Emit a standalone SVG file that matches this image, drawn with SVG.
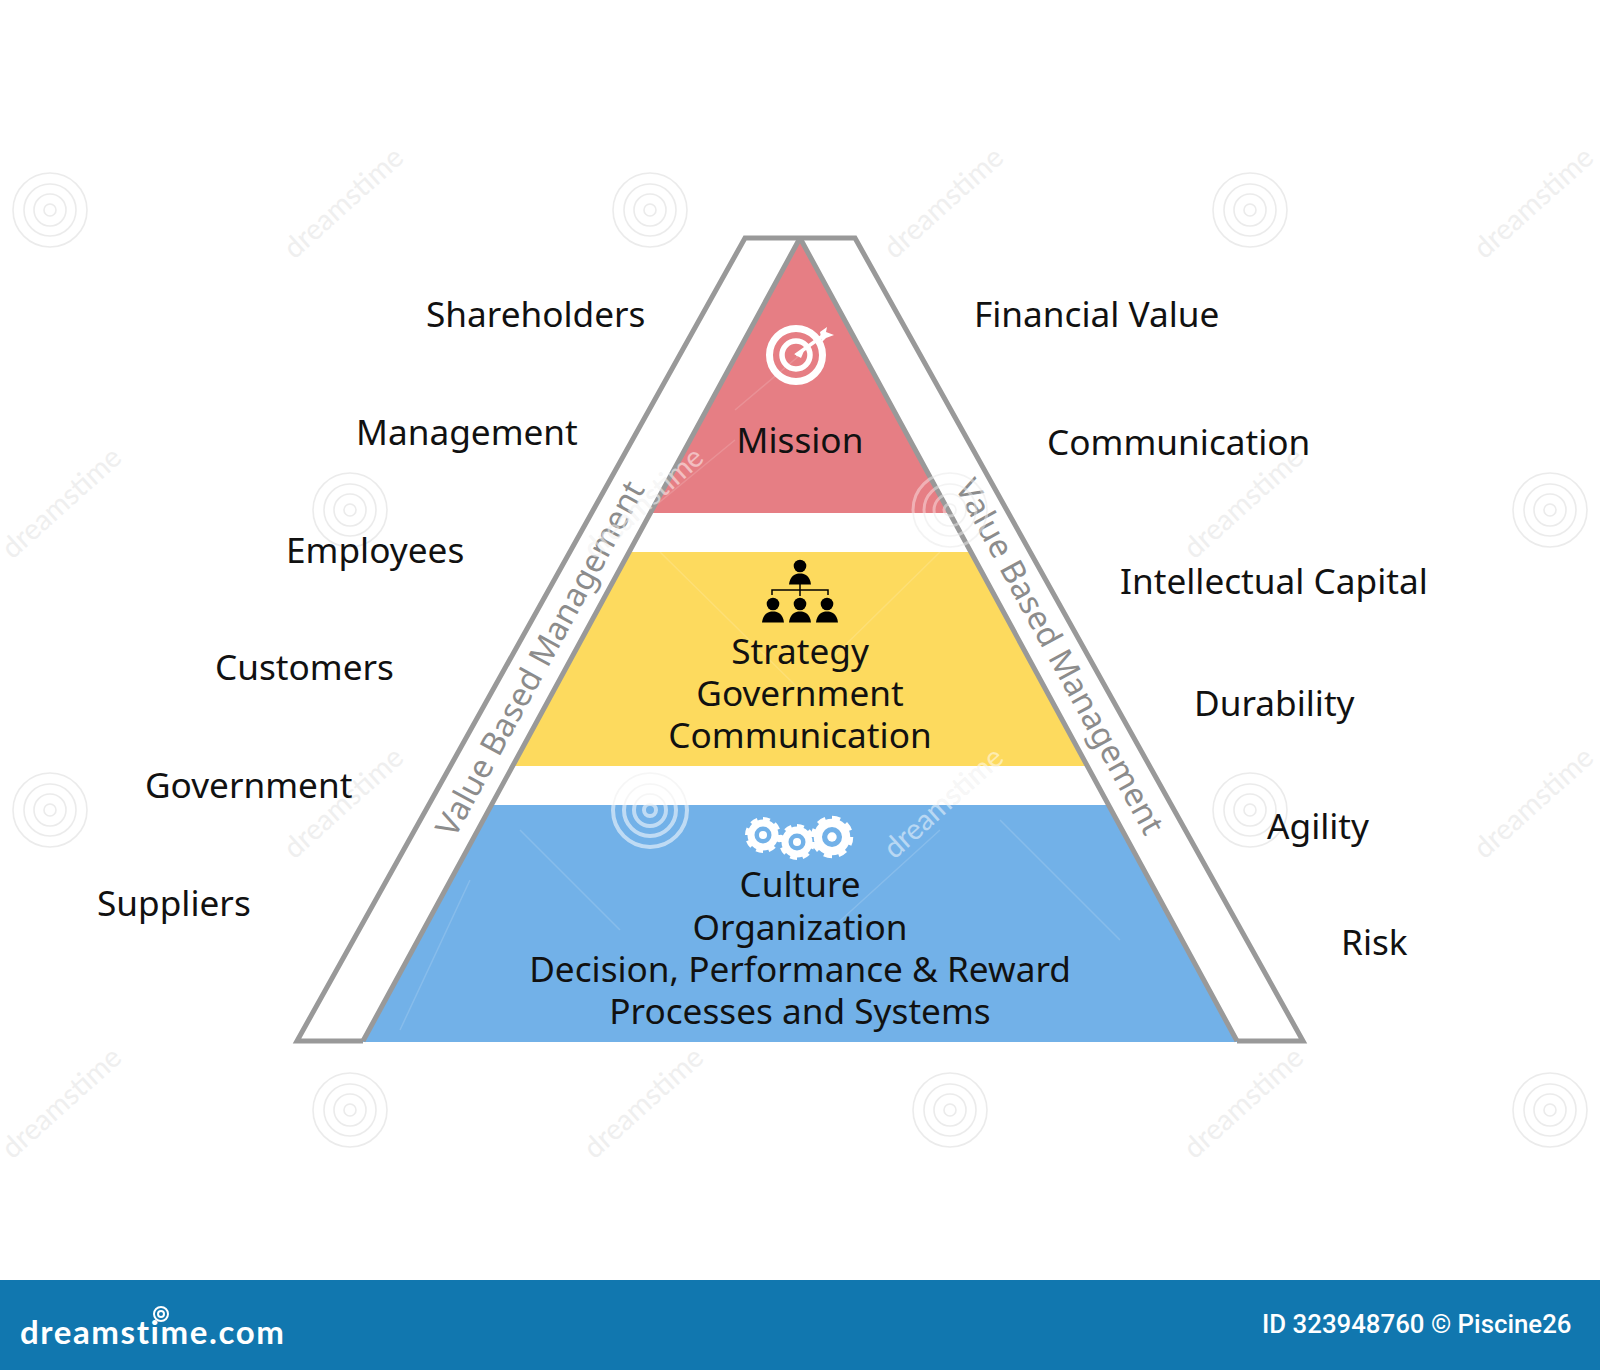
<svg xmlns="http://www.w3.org/2000/svg" width="1600" height="1370" viewBox="0 0 1600 1370">
<style>
text{font-family:"Noto Sans","Open Sans","DejaVu Sans",sans-serif}
.l{font-size:35.2px;fill:#111}
.c{font-size:35.2px;fill:#111;text-anchor:middle}
.v{font-size:32.5px;fill:#8c8c8c;text-anchor:middle}
.edge{fill:none;stroke:#999;stroke-width:5}
.w{fill:#fff}.k{fill:#000}
.wm{fill:none;stroke:#d4d4d4;stroke-width:1.6;opacity:.45}
.wt{font-size:29px;fill:#d8d8d8;opacity:.4;text-anchor:middle;font-family:"Lato",sans-serif}
.dl{stroke:#fff;stroke-width:1.5;opacity:.15;fill:none}
</style>
<defs>
<g id="spiral"><circle r="37"/><circle r="26"/><circle r="16"/><circle r="6"/></g>
<g id="person"><circle cx="0" cy="0" r="6.3"/><path d="M-11 18.5C-10 10-5 7.5 0 7.5S10 10 11 18.5Z"/></g>
<g id="gear"><circle r="15.5" class="w"/><circle r="15.5" fill="none" stroke="#fff" stroke-width="5" pathLength="80" stroke-dasharray="5.5 4.5"/><circle r="8.5" fill="#72b1e8"/><circle r="4" class="w"/></g>
</defs>
<rect width="1600" height="1370" fill="#fff"/>
<g id="watermark-back">
<use href="#spiral" class="wm" x="50" y="210"/><use href="#spiral" class="wm" x="650" y="210"/><use href="#spiral" class="wm" x="1250" y="210"/>
<use href="#spiral" class="wm" x="350" y="510"/><use href="#spiral" class="wm" x="950" y="510"/><use href="#spiral" class="wm" x="1550" y="510"/>
<use href="#spiral" class="wm" x="50" y="810"/><use href="#spiral" class="wm" x="650" y="810"/><use href="#spiral" class="wm" x="1250" y="810"/>
<use href="#spiral" class="wm" x="350" y="1110"/><use href="#spiral" class="wm" x="950" y="1110"/><use href="#spiral" class="wm" x="1550" y="1110"/>
<text class="wt" transform="translate(350 210) rotate(-42)">dreamstime</text>
<text class="wt" transform="translate(950 210) rotate(-42)">dreamstime</text>
<text class="wt" transform="translate(1540 210) rotate(-42)">dreamstime</text>
<text class="wt" transform="translate(68 510) rotate(-42)">dreamstime</text>
<text class="wt" transform="translate(650 510) rotate(-42)">dreamstime</text>
<text class="wt" transform="translate(1250 510) rotate(-42)">dreamstime</text>
<text class="wt" transform="translate(350 810) rotate(-42)">dreamstime</text>
<text class="wt" transform="translate(950 810) rotate(-42)">dreamstime</text>
<text class="wt" transform="translate(1540 810) rotate(-42)">dreamstime</text>
<text class="wt" transform="translate(68 1110) rotate(-42)">dreamstime</text>
<text class="wt" transform="translate(650 1110) rotate(-42)">dreamstime</text>
<text class="wt" transform="translate(1250 1110) rotate(-42)">dreamstime</text>
</g>
<g id="tier-mission"><polygon points="800,238 950,513 650,513" fill="#e67e84"/></g>
<g id="tier-strategy"><polygon points="629,552 971,552 1088,766 512,766" fill="#fdda5e"/></g>
<g id="tier-culture"><polygon points="491,805 1109,805 1238,1042 362,1042" fill="#72b1e8"/></g>
<g id="band-lines">
<path class="dl" d="M735 410L800 355M650 510L735 440M660 552L800 690M940 552L830 660M520 830L620 930M1000 820L1120 940M940 830L830 930M470 880L400 1030"/>
</g>
<g id="frame">
<path class="edge" d="M363 1041H297L745 238H855L1303 1041H1237"/>
<path class="edge" d="M800 238L363 1041M800 238L1237 1041"/>
</g>
<g id="icon-target">
<circle cx="796" cy="355" r="26.5" fill="none" stroke="#fff" stroke-width="7"/>
<circle cx="796" cy="355" r="14" fill="none" stroke="#fff" stroke-width="5.5"/>
<path d="M796 355L824 335" stroke="#fff" stroke-width="3.5"/>
<path d="M820 332L827 327L826 332L834 335L826 338L822 342Z" class="w"/>
<path d="M794 354L804 351L801 358Z" class="w"/>
</g>
<g id="icon-org">
<use href="#person" class="k" x="800" y="566"/>
<use href="#person" class="k" x="773" y="604"/>
<use href="#person" class="k" x="800" y="604"/>
<use href="#person" class="k" x="827" y="604"/>
<path d="M772 595V590H828V595M800 584V596" fill="none" stroke="#000" stroke-width="1.5"/>
</g>
<g id="icon-gears">
<use href="#gear" x="763" y="835"/>
<use href="#gear" x="797" y="842"/>
<use href="#gear" transform="translate(832 837) scale(1.18)"/>
</g>
<g id="label-mission"><text class="c" x="800" y="453">Mission</text></g>
<g id="label-strategy">
<text class="c" x="800" y="664">Strategy</text>
<text class="c" x="800" y="706">Government</text>
<text class="c" x="800" y="748">Communication</text>
</g>
<g id="label-culture">
<text class="c" x="800" y="897">Culture</text>
<text class="c" x="800" y="940">Organization</text>
<text class="c" x="800" y="982">Decision, Performance &amp; Reward</text>
<text class="c" x="800" y="1024">Processes and Systems</text>
</g>
<g id="side-labels">
<text class="v" transform="translate(550 664) rotate(-61.4)">Value Based Management</text>
<text class="v" transform="translate(1050 662) rotate(61.4)">Value Based Management</text>
</g>
<g id="left-list">
<text class="l" x="426" y="327">Shareholders</text>
<text class="l" x="356" y="445">Management</text>
<text class="l" x="286" y="563">Employees</text>
<text class="l" x="215" y="680">Customers</text>
<text class="l" x="145" y="798">Government</text>
<text class="l" x="97" y="916">Suppliers</text>
</g>
<g id="right-list">
<text class="l" x="974" y="327">Financial Value</text>
<text class="l" x="1047" y="455">Communication</text>
<text class="l" x="1120" y="594">Intellectual Capital</text>
<text class="l" x="1194" y="716">Durability</text>
<text class="l" x="1267" y="839">Agility</text>
<text class="l" x="1341" y="955">Risk</text>
</g>
<g id="watermark-front">
<use href="#spiral" x="650" y="810" fill="none" stroke="#fff" stroke-width="4" opacity=".55"/>
<use href="#spiral" x="950" y="510" fill="none" stroke="#fff" stroke-width="3" opacity=".4"/>
<text class="wt" style="fill:#fff;opacity:.5" transform="translate(950 810) rotate(-42)">dreamstime</text>
<text class="wt" style="fill:#fff;opacity:.5" transform="translate(650 510) rotate(-42)">dreamstime</text>
</g>
<g id="footer">
<rect y="1280" width="1600" height="90" fill="#1177af"/>
<text x="20" y="1344" font-size="33" font-weight="700" fill="#fff" style="font-family:'Lato',sans-serif;letter-spacing:1.6px">dreamstime.com</text>
<g fill="none" stroke="#fff" stroke-width="2"><circle cx="161" cy="1314" r="7"/><circle cx="161" cy="1314" r="3"/></g>
<text x="1262" y="1333" font-size="25.8" font-weight="500" fill="#fff" style="font-family:Roboto,sans-serif">ID 323948760 © Piscine26</text>
</g>
</svg>
